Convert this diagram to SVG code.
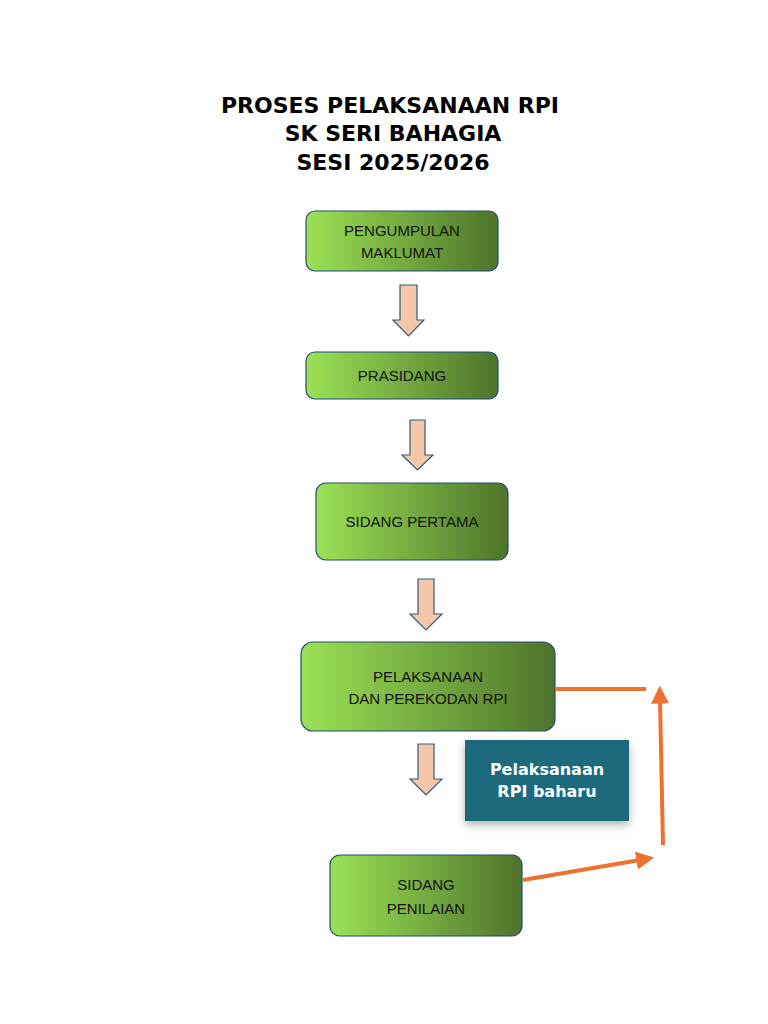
<svg xmlns="http://www.w3.org/2000/svg" width="768" height="1024" viewBox="0 0 768 1024">
<style>
.t{font-family:"DejaVu Sans",sans-serif;font-weight:bold;font-size:22px;text-anchor:middle;fill:#000}
.n{fill:url(#g);stroke:#1f4e79;stroke-width:1.2}
.l{font-family:"Liberation Sans",Arial,sans-serif;font-size:15px;text-anchor:middle;fill:#111}
.ba{fill:#f5c6a8;stroke:#2e5e7a;stroke-width:1.2}
.o{stroke:#ed7130;stroke-width:4;fill:none}
</style>
<defs>
<linearGradient id="g" x1="0" x2="1" y1="0" y2="0"><stop offset="0" stop-color="#9be255"/><stop offset="1" stop-color="#4f732b"/></linearGradient>
<marker id="m" markerWidth="6" markerHeight="6" refX="3" refY="3" orient="auto" markerUnits="userSpaceOnUse" viewBox="0 0 6 6"><path d="M0,0 L6,3 L0,6z" fill="#ed7130"/></marker>
<marker id="ah" viewBox="0 0 10 10" refX="2" refY="5" markerWidth="18" markerHeight="18" orient="auto" markerUnits="userSpaceOnUse"><path d="M0,0 L10,5 L0,10z" fill="#ed7130"/></marker>
<filter id="sh" x="-20%" y="-20%" width="140%" height="150%"><feDropShadow dx="0" dy="4" stdDeviation="4" flood-opacity="0.3"/></filter>
</defs>
<text class="t" x="390" y="113">PROSES PELAKSANAAN RPI</text>
<text class="t" x="393" y="141">SK SERI BAHAGIA</text>
<text class="t" x="393" y="170">SESI 2025/2026</text>
<g id="n1"><rect class="n" x="306" y="211" width="192" height="60" rx="9"/><text class="l" x="402" y="236">PENGUMPULAN</text><text class="l" x="402" y="258">MAKLUMAT</text></g>
<g id="n2"><rect class="n" x="306" y="352" width="192" height="47" rx="9"/><text class="l" x="402" y="381">PRASIDANG</text></g>
<g id="n3"><rect class="n" x="316" y="483" width="192" height="77" rx="10"/><text class="l" x="412" y="527">SIDANG PERTAMA</text></g>
<g id="n4"><rect class="n" x="301" y="642" width="254" height="89" rx="12"/><text class="l" x="428" y="682">PELAKSANAAN</text><text class="l" x="428" y="704">DAN PEREKODAN RPI</text></g>
<g id="n5"><rect class="n" x="330" y="855" width="192" height="81" rx="10"/><text class="l" x="426" y="890">SIDANG</text><text class="l" x="426" y="914">PENILAIAN</text></g>
<g id="n6"><rect x="465" y="740" width="164" height="81" fill="#1b6a7c" filter="url(#sh)"/><text x="547" y="775" font-family="DejaVu Sans,sans-serif" font-weight="bold" font-size="16" fill="#fff" text-anchor="middle">Pelaksanaan</text><text x="547" y="797" font-family="DejaVu Sans,sans-serif" font-weight="bold" font-size="16" fill="#fff" text-anchor="middle">RPI baharu</text></g>
<g id="connectors">
<path class="ba" d="M400,285 H417 V320 H424 L408.5,336 L393,320 H400Z"/>
<path class="ba" d="M410,420 H425 V455 H433 L417.5,470 L402,455 H410Z"/>
<path class="ba" d="M418,579 H434 V614 H442 L426,630 L410,614 H418Z"/>
<path class="ba" d="M418,744 H434 V779 H442 L426,795 L410,779 H418Z"/>
<line class="o" x1="556" y1="689" x2="646" y2="689"/>
<line class="o" x1="663" y1="845" x2="660" y2="700" marker-end="url(#ah)"/>
<line class="o" x1="523" y1="880" x2="640" y2="860" marker-end="url(#ah)"/>
</g>
</svg>
